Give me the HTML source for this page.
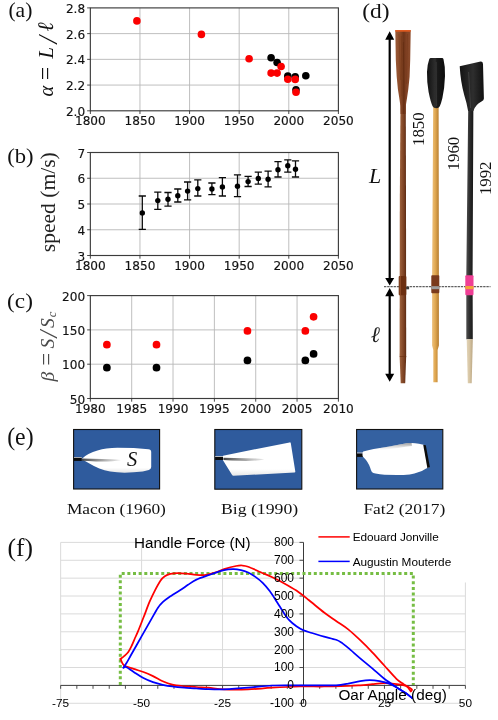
<!DOCTYPE html>
<html lang="en"><head><meta charset="utf-8"><title>Oar evolution figure</title>
<style>html,body{margin:0;padding:0;background:#fff}body{width:498px;height:720px;overflow:hidden}svg{display:block}</style>
</head><body>
<svg width="498" height="720" viewBox="0 0 498 720">
<defs>
<linearGradient id="wood" x1="0" x2="1" y1="0" y2="0"><stop offset="0" stop-color="#9a5a38"/><stop offset="0.3" stop-color="#8c4c2a"/><stop offset="0.55" stop-color="#6e3418"/><stop offset="0.75" stop-color="#844426"/><stop offset="1" stop-color="#8a4a2a"/></linearGradient>
<linearGradient id="woodS" x1="0" x2="1" y1="0" y2="0"><stop offset="0" stop-color="#a0643e"/><stop offset="0.35" stop-color="#8c502e"/><stop offset="0.7" stop-color="#783e20"/><stop offset="1" stop-color="#5a2a12"/></linearGradient>
<linearGradient id="wood2" x1="0" x2="1" y1="0" y2="0"><stop offset="0" stop-color="#ecc07c"/><stop offset="0.45" stop-color="#e2aa54"/><stop offset="1" stop-color="#b67c2e"/></linearGradient>
<linearGradient id="blk" x1="0" x2="1" y1="0" y2="0"><stop offset="0" stop-color="#101010"/><stop offset="0.45" stop-color="#2e2e2e"/><stop offset="0.55" stop-color="#1a1a1a"/><stop offset="1" stop-color="#0c0c0c"/></linearGradient>
<linearGradient id="blk2" x1="0" x2="1" y1="0" y2="0"><stop offset="0" stop-color="#131313"/><stop offset="0.55" stop-color="#2e2e2e"/><stop offset="1" stop-color="#101010"/></linearGradient>
<linearGradient id="shaft3" x1="0" x2="1" y1="0" y2="0"><stop offset="0" stop-color="#505050"/><stop offset="0.5" stop-color="#2c2c2c"/><stop offset="1" stop-color="#161616"/></linearGradient>
<linearGradient id="grip" x1="0" x2="1" y1="0" y2="0"><stop offset="0" stop-color="#e2d4b8"/><stop offset="0.5" stop-color="#d6c4a2"/><stop offset="1" stop-color="#b9a582"/></linearGradient>
<linearGradient id="bladeW" x1="0" x2="0" y1="0" y2="1"><stop offset="0" stop-color="#ffffff"/><stop offset="0.8" stop-color="#ffffff"/><stop offset="1" stop-color="#e6e6e6"/></linearGradient>
<linearGradient id="ridge" x1="0" x2="1" y1="0" y2="0"><stop offset="0" stop-color="#3c3c3c" stop-opacity="0.95"/><stop offset="0.5" stop-color="#888" stop-opacity="0.8"/><stop offset="1" stop-color="#bbb" stop-opacity="0.35"/></linearGradient>
<linearGradient id="fatshade" x1="0" x2="0" y1="0" y2="1"><stop offset="0" stop-color="#8f8f8f" stop-opacity="0.9"/><stop offset="1" stop-color="#ddd" stop-opacity="0"/></linearGradient>
</defs>
<rect width="498" height="720" fill="#fff"/>
<g id="panel-a">
<line x1="139.96" y1="7.9" x2="139.96" y2="110.8" stroke="#b8b8b8" stroke-width="0.9"/>
<line x1="189.57" y1="7.9" x2="189.57" y2="110.8" stroke="#b8b8b8" stroke-width="0.9"/>
<line x1="239.18" y1="7.9" x2="239.18" y2="110.8" stroke="#b8b8b8" stroke-width="0.9"/>
<line x1="288.79" y1="7.9" x2="288.79" y2="110.8" stroke="#b8b8b8" stroke-width="0.9"/>
<line x1="90.35" y1="85.07" x2="338.4" y2="85.07" stroke="#b8b8b8" stroke-width="0.9"/>
<line x1="90.35" y1="59.35" x2="338.4" y2="59.35" stroke="#b8b8b8" stroke-width="0.9"/>
<line x1="90.35" y1="33.62" x2="338.4" y2="33.62" stroke="#b8b8b8" stroke-width="0.9"/>
<circle cx="271.10" cy="57.70" r="3.8" fill="#000"/>
<circle cx="277.10" cy="62.50" r="3.8" fill="#000"/>
<circle cx="287.80" cy="76.10" r="3.8" fill="#000"/>
<circle cx="295.20" cy="76.70" r="3.8" fill="#000"/>
<circle cx="305.80" cy="75.70" r="3.8" fill="#000"/>
<circle cx="296.00" cy="89.80" r="3.8" fill="#000"/>
<circle cx="136.90" cy="20.90" r="3.8" fill="#fb0000"/>
<circle cx="201.40" cy="34.40" r="3.8" fill="#fb0000"/>
<circle cx="249.10" cy="58.70" r="3.8" fill="#fb0000"/>
<circle cx="271.10" cy="73.10" r="3.8" fill="#fb0000"/>
<circle cx="277.10" cy="73.10" r="3.8" fill="#fb0000"/>
<circle cx="281.10" cy="66.50" r="3.8" fill="#fb0000"/>
<circle cx="287.80" cy="79.20" r="3.8" fill="#fb0000"/>
<circle cx="295.20" cy="79.40" r="3.8" fill="#fb0000"/>
<circle cx="296.00" cy="92.20" r="3.8" fill="#fb0000"/>
<rect x="90.35" y="7.9" width="248.05" height="102.90" fill="none" stroke="#3c3c3c" stroke-width="1.15"/>
<line x1="90.35" y1="110.8" x2="90.35" y2="114.0" stroke="#333" stroke-width="0.9"/>
<text x="90.35" y="125.40" font-family='"DejaVu Sans","Liberation Sans",sans-serif' font-size="12.1" stroke="#111" stroke-width="0.15" text-anchor="middle" fill="#111">1800</text>
<line x1="139.96" y1="110.8" x2="139.96" y2="114.0" stroke="#333" stroke-width="0.9"/>
<text x="139.96" y="125.40" font-family='"DejaVu Sans","Liberation Sans",sans-serif' font-size="12.1" stroke="#111" stroke-width="0.15" text-anchor="middle" fill="#111">1850</text>
<line x1="189.57" y1="110.8" x2="189.57" y2="114.0" stroke="#333" stroke-width="0.9"/>
<text x="189.57" y="125.40" font-family='"DejaVu Sans","Liberation Sans",sans-serif' font-size="12.1" stroke="#111" stroke-width="0.15" text-anchor="middle" fill="#111">1900</text>
<line x1="239.18" y1="110.8" x2="239.18" y2="114.0" stroke="#333" stroke-width="0.9"/>
<text x="239.18" y="125.40" font-family='"DejaVu Sans","Liberation Sans",sans-serif' font-size="12.1" stroke="#111" stroke-width="0.15" text-anchor="middle" fill="#111">1950</text>
<line x1="288.79" y1="110.8" x2="288.79" y2="114.0" stroke="#333" stroke-width="0.9"/>
<text x="288.79" y="125.40" font-family='"DejaVu Sans","Liberation Sans",sans-serif' font-size="12.1" stroke="#111" stroke-width="0.15" text-anchor="middle" fill="#111">2000</text>
<line x1="338.40" y1="110.8" x2="338.40" y2="114.0" stroke="#333" stroke-width="0.9"/>
<text x="338.40" y="125.40" font-family='"DejaVu Sans","Liberation Sans",sans-serif' font-size="12.1" stroke="#111" stroke-width="0.15" text-anchor="middle" fill="#111">2050</text>
<line x1="87.14999999999999" y1="110.80" x2="90.35" y2="110.80" stroke="#333" stroke-width="0.9"/>
<text x="85.15" y="115.80" font-family='"DejaVu Sans","Liberation Sans",sans-serif' font-size="12.1" stroke="#111" stroke-width="0.15" text-anchor="end" fill="#111">2.0</text>
<line x1="87.14999999999999" y1="85.07" x2="90.35" y2="85.07" stroke="#333" stroke-width="0.9"/>
<text x="85.15" y="90.07" font-family='"DejaVu Sans","Liberation Sans",sans-serif' font-size="12.1" stroke="#111" stroke-width="0.15" text-anchor="end" fill="#111">2.2</text>
<line x1="87.14999999999999" y1="59.35" x2="90.35" y2="59.35" stroke="#333" stroke-width="0.9"/>
<text x="85.15" y="64.35" font-family='"DejaVu Sans","Liberation Sans",sans-serif' font-size="12.1" stroke="#111" stroke-width="0.15" text-anchor="end" fill="#111">2.4</text>
<line x1="87.14999999999999" y1="33.62" x2="90.35" y2="33.62" stroke="#333" stroke-width="0.9"/>
<text x="85.15" y="38.62" font-family='"DejaVu Sans","Liberation Sans",sans-serif' font-size="12.1" stroke="#111" stroke-width="0.15" text-anchor="end" fill="#111">2.6</text>
<line x1="87.14999999999999" y1="7.90" x2="90.35" y2="7.90" stroke="#333" stroke-width="0.9"/>
<text x="85.15" y="12.90" font-family='"DejaVu Sans","Liberation Sans",sans-serif' font-size="12.1" stroke="#111" stroke-width="0.15" text-anchor="end" fill="#111">2.8</text>
<text x="8.4" y="16.9" font-family='"Liberation Serif","DejaVu Serif",serif' font-size="21" fill="#111" textLength="24" lengthAdjust="spacingAndGlyphs">(a)</text>
<text transform="translate(52.6,96) rotate(-90)" font-family='"Liberation Serif","DejaVu Serif",serif' font-size="20.5" font-style="italic" fill="#111"><tspan x="-0.5">α</tspan><tspan x="15.8" font-style="normal" font-size="24">=</tspan><tspan x="37.6">L</tspan><tspan x="52.6" dy="4.2" font-size="27">/</tspan><tspan x="64.4" dy="-4.2" font-size="22">ℓ</tspan></text>
</g>
<g id="panel-b">
<line x1="139.96" y1="152.5" x2="139.96" y2="255.5" stroke="#b8b8b8" stroke-width="0.9"/>
<line x1="189.57" y1="152.5" x2="189.57" y2="255.5" stroke="#b8b8b8" stroke-width="0.9"/>
<line x1="239.18" y1="152.5" x2="239.18" y2="255.5" stroke="#b8b8b8" stroke-width="0.9"/>
<line x1="288.79" y1="152.5" x2="288.79" y2="255.5" stroke="#b8b8b8" stroke-width="0.9"/>
<line x1="90.35" y1="229.75" x2="338.4" y2="229.75" stroke="#b8b8b8" stroke-width="0.9"/>
<line x1="90.35" y1="204.00" x2="338.4" y2="204.00" stroke="#b8b8b8" stroke-width="0.9"/>
<line x1="90.35" y1="178.25" x2="338.4" y2="178.25" stroke="#b8b8b8" stroke-width="0.9"/>
<path d="M142.30 196.00V229.40M138.70 196.00H145.90M138.70 229.40H145.90" stroke="#0a0a0a" stroke-width="1.3" fill="none"/>
<circle cx="142.30" cy="212.90" r="2.7" fill="#000"/>
<path d="M157.80 192.10V209.40M154.20 192.10H161.40M154.20 209.40H161.40" stroke="#0a0a0a" stroke-width="1.3" fill="none"/>
<circle cx="157.80" cy="200.60" r="2.7" fill="#000"/>
<path d="M168.00 192.50V206.20M164.40 192.50H171.60M164.40 206.20H171.60" stroke="#0a0a0a" stroke-width="1.3" fill="none"/>
<circle cx="168.00" cy="199.20" r="2.7" fill="#000"/>
<path d="M177.80 189.00V202.00M174.20 189.00H181.40M174.20 202.00H181.40" stroke="#0a0a0a" stroke-width="1.3" fill="none"/>
<circle cx="177.80" cy="195.70" r="2.7" fill="#000"/>
<path d="M187.60 182.00V199.90M184.00 182.00H191.20M184.00 199.90H191.20" stroke="#0a0a0a" stroke-width="1.3" fill="none"/>
<circle cx="187.60" cy="191.10" r="2.7" fill="#000"/>
<path d="M197.80 179.90V196.00M194.20 179.90H201.40M194.20 196.00H201.40" stroke="#0a0a0a" stroke-width="1.3" fill="none"/>
<circle cx="197.80" cy="188.60" r="2.7" fill="#000"/>
<path d="M211.90 183.00V194.60M208.30 183.00H215.50M208.30 194.60H215.50" stroke="#0a0a0a" stroke-width="1.3" fill="none"/>
<circle cx="211.90" cy="189.00" r="2.7" fill="#000"/>
<path d="M222.40 177.70V196.00M218.80 177.70H226.00M218.80 196.00H226.00" stroke="#0a0a0a" stroke-width="1.3" fill="none"/>
<circle cx="222.40" cy="186.90" r="2.7" fill="#000"/>
<path d="M237.50 174.90V196.70M233.90 174.90H241.10M233.90 196.70H241.10" stroke="#0a0a0a" stroke-width="1.3" fill="none"/>
<circle cx="237.50" cy="186.20" r="2.7" fill="#000"/>
<path d="M248.10 176.30V186.50M244.50 176.30H251.70M244.50 186.50H251.70" stroke="#0a0a0a" stroke-width="1.3" fill="none"/>
<circle cx="248.10" cy="181.60" r="2.7" fill="#000"/>
<path d="M258.30 172.10V184.10M254.70 172.10H261.90M254.70 184.10H261.90" stroke="#0a0a0a" stroke-width="1.3" fill="none"/>
<circle cx="258.30" cy="178.40" r="2.7" fill="#000"/>
<path d="M268.10 171.10V186.90M264.50 171.10H271.70M264.50 186.90H271.70" stroke="#0a0a0a" stroke-width="1.3" fill="none"/>
<circle cx="268.10" cy="179.20" r="2.7" fill="#000"/>
<path d="M278.00 161.60V177.00M274.40 161.60H281.60M274.40 177.00H281.60" stroke="#0a0a0a" stroke-width="1.3" fill="none"/>
<circle cx="278.00" cy="169.70" r="2.7" fill="#000"/>
<path d="M287.80 159.80V172.10M284.20 159.80H291.40M284.20 172.10H291.40" stroke="#0a0a0a" stroke-width="1.3" fill="none"/>
<circle cx="287.80" cy="165.80" r="2.7" fill="#000"/>
<path d="M295.50 160.90V177.00M291.90 160.90H299.10M291.90 177.00H299.10" stroke="#0a0a0a" stroke-width="1.3" fill="none"/>
<circle cx="295.50" cy="169.30" r="2.7" fill="#000"/>
<rect x="90.35" y="152.5" width="248.05" height="103.00" fill="none" stroke="#3c3c3c" stroke-width="1.15"/>
<line x1="90.35" y1="255.5" x2="90.35" y2="258.7" stroke="#333" stroke-width="0.9"/>
<text x="90.35" y="270.10" font-family='"DejaVu Sans","Liberation Sans",sans-serif' font-size="12.1" stroke="#111" stroke-width="0.15" text-anchor="middle" fill="#111">1800</text>
<line x1="139.96" y1="255.5" x2="139.96" y2="258.7" stroke="#333" stroke-width="0.9"/>
<text x="139.96" y="270.10" font-family='"DejaVu Sans","Liberation Sans",sans-serif' font-size="12.1" stroke="#111" stroke-width="0.15" text-anchor="middle" fill="#111">1850</text>
<line x1="189.57" y1="255.5" x2="189.57" y2="258.7" stroke="#333" stroke-width="0.9"/>
<text x="189.57" y="270.10" font-family='"DejaVu Sans","Liberation Sans",sans-serif' font-size="12.1" stroke="#111" stroke-width="0.15" text-anchor="middle" fill="#111">1900</text>
<line x1="239.18" y1="255.5" x2="239.18" y2="258.7" stroke="#333" stroke-width="0.9"/>
<text x="239.18" y="270.10" font-family='"DejaVu Sans","Liberation Sans",sans-serif' font-size="12.1" stroke="#111" stroke-width="0.15" text-anchor="middle" fill="#111">1950</text>
<line x1="288.79" y1="255.5" x2="288.79" y2="258.7" stroke="#333" stroke-width="0.9"/>
<text x="288.79" y="270.10" font-family='"DejaVu Sans","Liberation Sans",sans-serif' font-size="12.1" stroke="#111" stroke-width="0.15" text-anchor="middle" fill="#111">2000</text>
<line x1="338.40" y1="255.5" x2="338.40" y2="258.7" stroke="#333" stroke-width="0.9"/>
<text x="338.40" y="270.10" font-family='"DejaVu Sans","Liberation Sans",sans-serif' font-size="12.1" stroke="#111" stroke-width="0.15" text-anchor="middle" fill="#111">2050</text>
<line x1="87.14999999999999" y1="255.50" x2="90.35" y2="255.50" stroke="#333" stroke-width="0.9"/>
<text x="85.15" y="260.50" font-family='"DejaVu Sans","Liberation Sans",sans-serif' font-size="12.1" stroke="#111" stroke-width="0.15" text-anchor="end" fill="#111">3</text>
<line x1="87.14999999999999" y1="229.75" x2="90.35" y2="229.75" stroke="#333" stroke-width="0.9"/>
<text x="85.15" y="234.75" font-family='"DejaVu Sans","Liberation Sans",sans-serif' font-size="12.1" stroke="#111" stroke-width="0.15" text-anchor="end" fill="#111">4</text>
<line x1="87.14999999999999" y1="204.00" x2="90.35" y2="204.00" stroke="#333" stroke-width="0.9"/>
<text x="85.15" y="209.00" font-family='"DejaVu Sans","Liberation Sans",sans-serif' font-size="12.1" stroke="#111" stroke-width="0.15" text-anchor="end" fill="#111">5</text>
<line x1="87.14999999999999" y1="178.25" x2="90.35" y2="178.25" stroke="#333" stroke-width="0.9"/>
<text x="85.15" y="183.25" font-family='"DejaVu Sans","Liberation Sans",sans-serif' font-size="12.1" stroke="#111" stroke-width="0.15" text-anchor="end" fill="#111">6</text>
<line x1="87.14999999999999" y1="152.50" x2="90.35" y2="152.50" stroke="#333" stroke-width="0.9"/>
<text x="85.15" y="157.50" font-family='"DejaVu Sans","Liberation Sans",sans-serif' font-size="12.1" stroke="#111" stroke-width="0.15" text-anchor="end" fill="#111">7</text>
<text x="7.2" y="163.3" font-family='"Liberation Serif","DejaVu Serif",serif' font-size="21" fill="#111" textLength="26.4" lengthAdjust="spacingAndGlyphs">(b)</text>
<text transform="translate(55.2,252.2) rotate(-90)" font-family='"Liberation Serif","DejaVu Serif",serif' font-size="20.2" fill="#222" textLength="100" lengthAdjust="spacingAndGlyphs">speed (m/s)</text>
</g>
<g id="panel-c">
<line x1="131.69" y1="295.6" x2="131.69" y2="398.5" stroke="#b8b8b8" stroke-width="0.9"/>
<line x1="173.03" y1="295.6" x2="173.03" y2="398.5" stroke="#b8b8b8" stroke-width="0.9"/>
<line x1="214.38" y1="295.6" x2="214.38" y2="398.5" stroke="#b8b8b8" stroke-width="0.9"/>
<line x1="255.72" y1="295.6" x2="255.72" y2="398.5" stroke="#b8b8b8" stroke-width="0.9"/>
<line x1="297.06" y1="295.6" x2="297.06" y2="398.5" stroke="#b8b8b8" stroke-width="0.9"/>
<line x1="90.35" y1="364.20" x2="338.4" y2="364.20" stroke="#b8b8b8" stroke-width="0.9"/>
<line x1="90.35" y1="329.90" x2="338.4" y2="329.90" stroke="#b8b8b8" stroke-width="0.9"/>
<circle cx="106.89" cy="344.65" r="3.85" fill="#fb0000"/>
<circle cx="106.89" cy="367.63" r="3.85" fill="#000"/>
<circle cx="156.50" cy="344.65" r="3.85" fill="#fb0000"/>
<circle cx="156.50" cy="367.63" r="3.85" fill="#000"/>
<circle cx="247.45" cy="330.93" r="3.85" fill="#fb0000"/>
<circle cx="247.45" cy="360.43" r="3.85" fill="#000"/>
<circle cx="305.33" cy="330.93" r="3.85" fill="#fb0000"/>
<circle cx="305.33" cy="360.43" r="3.85" fill="#000"/>
<circle cx="313.59" cy="316.87" r="3.85" fill="#fb0000"/>
<circle cx="313.59" cy="353.91" r="3.85" fill="#000"/>
<rect x="90.35" y="295.6" width="248.05" height="102.90" fill="none" stroke="#3c3c3c" stroke-width="1.15"/>
<line x1="90.35" y1="398.5" x2="90.35" y2="401.7" stroke="#333" stroke-width="0.9"/>
<text x="90.35" y="413.10" font-family='"DejaVu Sans","Liberation Sans",sans-serif' font-size="12.1" stroke="#111" stroke-width="0.15" text-anchor="middle" fill="#111">1980</text>
<line x1="131.69" y1="398.5" x2="131.69" y2="401.7" stroke="#333" stroke-width="0.9"/>
<text x="131.69" y="413.10" font-family='"DejaVu Sans","Liberation Sans",sans-serif' font-size="12.1" stroke="#111" stroke-width="0.15" text-anchor="middle" fill="#111">1985</text>
<line x1="173.03" y1="398.5" x2="173.03" y2="401.7" stroke="#333" stroke-width="0.9"/>
<text x="173.03" y="413.10" font-family='"DejaVu Sans","Liberation Sans",sans-serif' font-size="12.1" stroke="#111" stroke-width="0.15" text-anchor="middle" fill="#111">1990</text>
<line x1="214.38" y1="398.5" x2="214.38" y2="401.7" stroke="#333" stroke-width="0.9"/>
<text x="214.38" y="413.10" font-family='"DejaVu Sans","Liberation Sans",sans-serif' font-size="12.1" stroke="#111" stroke-width="0.15" text-anchor="middle" fill="#111">1995</text>
<line x1="255.72" y1="398.5" x2="255.72" y2="401.7" stroke="#333" stroke-width="0.9"/>
<text x="255.72" y="413.10" font-family='"DejaVu Sans","Liberation Sans",sans-serif' font-size="12.1" stroke="#111" stroke-width="0.15" text-anchor="middle" fill="#111">2000</text>
<line x1="297.06" y1="398.5" x2="297.06" y2="401.7" stroke="#333" stroke-width="0.9"/>
<text x="297.06" y="413.10" font-family='"DejaVu Sans","Liberation Sans",sans-serif' font-size="12.1" stroke="#111" stroke-width="0.15" text-anchor="middle" fill="#111">2005</text>
<line x1="338.40" y1="398.5" x2="338.40" y2="401.7" stroke="#333" stroke-width="0.9"/>
<text x="338.40" y="413.10" font-family='"DejaVu Sans","Liberation Sans",sans-serif' font-size="12.1" stroke="#111" stroke-width="0.15" text-anchor="middle" fill="#111">2010</text>
<line x1="87.14999999999999" y1="398.50" x2="90.35" y2="398.50" stroke="#333" stroke-width="0.9"/>
<text x="85.15" y="403.50" font-family='"DejaVu Sans","Liberation Sans",sans-serif' font-size="12.1" stroke="#111" stroke-width="0.15" text-anchor="end" fill="#111">50</text>
<line x1="87.14999999999999" y1="364.20" x2="90.35" y2="364.20" stroke="#333" stroke-width="0.9"/>
<text x="85.15" y="369.20" font-family='"DejaVu Sans","Liberation Sans",sans-serif' font-size="12.1" stroke="#111" stroke-width="0.15" text-anchor="end" fill="#111">100</text>
<line x1="87.14999999999999" y1="329.90" x2="90.35" y2="329.90" stroke="#333" stroke-width="0.9"/>
<text x="85.15" y="334.90" font-family='"DejaVu Sans","Liberation Sans",sans-serif' font-size="12.1" stroke="#111" stroke-width="0.15" text-anchor="end" fill="#111">150</text>
<line x1="87.14999999999999" y1="295.60" x2="90.35" y2="295.60" stroke="#333" stroke-width="0.9"/>
<text x="85.15" y="300.60" font-family='"DejaVu Sans","Liberation Sans",sans-serif' font-size="12.1" stroke="#111" stroke-width="0.15" text-anchor="end" fill="#111">200</text>
<text x="7.1" y="308.2" font-family='"Liberation Serif","DejaVu Serif",serif' font-size="21" fill="#111" textLength="25.8" lengthAdjust="spacingAndGlyphs">(c)</text>
<text transform="translate(53.6,381) rotate(-90)" font-family='"Liberation Serif","DejaVu Serif",serif' font-size="19.5" font-style="italic" fill="#4a4a4a"><tspan x="-0.5">β</tspan><tspan x="15.2" font-style="normal" font-size="23">=</tspan><tspan x="32.4">S</tspan><tspan x="43.4" dy="3.4" font-size="25">/</tspan><tspan x="53" dy="-3.4">S</tspan><tspan x="63.8" font-size="12.5" dy="2.6">c</tspan></text>
</g>
<g id="panel-d">
<text x="362.2" y="18" font-family='"Liberation Serif","DejaVu Serif",serif' font-size="21" fill="#111" textLength="27.3" lengthAdjust="spacingAndGlyphs">(d)</text>
<line x1="384" y1="286.7" x2="490.5" y2="286.7" stroke="#606060" stroke-width="1.3" stroke-dasharray="2.35 0.85"/>
<path d="M400.5 104H405.8L406 200L406.2 356L405.2 383.2H400.7L399.6 356L399.8 200Z" fill="url(#woodS)"/>
<path d="M395.3 30.2H410.7L410.2 60L409.6 76.7L408.3 89.2L407.1 97.5L405.8 105.8L405.7 114H400.6L400.4 105.8L399.2 97.5L397.9 89.2L396.7 76.7L395.8 60Z" fill="url(#wood)"/>
<path d="M403.4 42L404 100L403.9 114" stroke="#5e2a0e" stroke-width="1" fill="none" opacity="0.55"/>
<path d="M399 34L400.6 80M407.5 34L406.5 84M401.3 36L402 96" stroke="#6a3010" stroke-width="0.7" fill="none" opacity="0.45"/>
<rect x="395.3" y="30" width="15.4" height="1.7" fill="#de5a20"/>
<rect x="398.7" y="276" width="7.6" height="19.2" rx="0.9" fill="#6c2f10"/>
<rect x="399.4" y="276" width="1.6" height="19.2" fill="#92502a" opacity="0.8"/>
<rect x="406.1" y="287" width="3" height="2.3" fill="#3a3a3a"/>
<rect x="399.6" y="356" width="6.7" height="0.9" fill="#6a3012" opacity="0.7"/>
<path d="M433.2 104H438.6L438.9 275V345.5L437.6 350V382.2H433.3V350L432.1 345.5V275Z" fill="url(#wood2)"/>
<path d="M429.2 59.3Q429.6 58 431 58H442Q443.2 58 443.5 59.3Q445.4 67 445 76Q444.6 88 442.4 98Q441.2 103 439.8 106.2Q438.8 108.2 436.2 108.2Q433.6 108.2 432.6 106.2Q430.6 102 428.6 92Q426.8 82 427 72Q427.2 65 429.2 59.3Z" fill="url(#blk)"/>
<path d="M436.2 62L436.4 106" stroke="#4a4a4a" stroke-width="0.8" opacity="0.6"/>
<rect x="431.3" y="275.2" width="8" height="18" rx="0.9" fill="#7a3a1c"/>
<rect x="431.3" y="286.2" width="8" height="3" fill="#9c9c9c"/>
<path d="M468.3 100H473.4L472.6 275L472.8 339.2H466.3V275Z" fill="url(#shaft3)"/>
<path d="M466.7 339.2H472.8L471.7 383.2H467.8Z" fill="url(#grip)"/>
<path d="M459.7 66.3L480.6 61.6Q482.8 61.4 483 64L483.9 98.5Q483.9 100.4 481.5 101.6Q475.5 104.6 473.4 111H468.1Q466.5 102 464.2 95Q460.6 82 459.7 66.3Z" fill="url(#blk2)"/>
<path d="M468.6 72L470.6 108" stroke="#555" stroke-width="0.9" opacity="0.6"/>
<rect x="465.3" y="275.2" width="8.2" height="20" rx="1" fill="#ef3f95"/>
<rect x="465.3" y="286" width="8.2" height="3.2" fill="#f2a23a"/>
<path d="M389.7 38V280M389.7 294V375" stroke="#000" stroke-width="2.2" fill="none"/>
<path d="M389.7 31.3L394.2 39.8H385.2Z M389.7 285.6L394.2 278H385.2Z M389.7 288L394.2 296.2H385.2Z M389.7 381.8L394.2 373.8H385.2Z" fill="#000"/>
<text x="369" y="182.8" font-family='"Liberation Serif","DejaVu Serif",serif' font-size="22" font-style="italic" fill="#111">L</text>
<text x="370.8" y="342.2" font-family='"Liberation Serif","DejaVu Serif",serif' font-size="22" font-style="italic" fill="#222">ℓ</text>
<text transform="translate(424,146) rotate(-90)" font-family='"Liberation Serif","DejaVu Serif",serif' font-size="16.8" fill="#111">1850</text>
<text transform="translate(458.6,170.4) rotate(-90)" font-family='"Liberation Serif","DejaVu Serif",serif' font-size="16.8" fill="#111">1960</text>
<text transform="translate(491.1,195.1) rotate(-90)" font-family='"Liberation Serif","DejaVu Serif",serif' font-size="16.8" fill="#111">1992</text>
</g>
<g id="panel-e">
<text x="7.2" y="444.6" font-family='"Liberation Serif","DejaVu Serif",serif' font-size="24.3" fill="#111" textLength="26.4" lengthAdjust="spacingAndGlyphs">(e)</text>
<rect x="73.6" y="429.5" width="86" height="59.5" fill="#2f5b9d" stroke="#111" stroke-width="1.1"/>
<rect x="74" y="457" width="7.8" height="1" fill="#b9bcc2"/>
<rect x="74" y="457.9" width="7.8" height="3" fill="#0c0c0c"/>
<path d="M81.2 458.5Q84.5 455.5 88.1 453.6Q92.5 451.3 97.1 449.9Q101.5 448.7 106.1 448.1Q111.5 447.3 117 447.2L133.3 447.6L148 448.7Q150.8 449 150.8 451.5V466.5Q150.8 468.8 148.5 469.4L142.3 471.1Q133 472.2 124.2 472.2Q116.5 472 109.8 471.1Q104 470 98.9 468Q94 466 89.9 463.5Q85 460.8 81.2 458.5Z" transform="translate(0.4,0.5)" fill="url(#bladeW)"/>
<path d="M81.8 458.6L112 459.2Q121.5 459.4 120.5 460.2Q112 461.8 96 461.4Q88 461.2 81.8 460.8Z" fill="url(#ridge)"/>
<text x="127" y="466" font-family='"Liberation Serif","DejaVu Serif",serif' font-size="20.5" font-style="italic" fill="#111">S</text>
<rect x="214.8" y="429.5" width="87" height="59.7" fill="#2f5b9d" stroke="#111" stroke-width="1.1"/>
<rect x="215.2" y="456" width="8" height="1" fill="#b9bcc2"/>
<rect x="215.2" y="457" width="8" height="3" fill="#0c0c0c"/>
<path d="M223 455.7L289.6 442.4Q290.6 442.2 290.8 443.2L295.3 471.4Q295.5 472.4 294.5 472.5L233.4 475.8Q232.5 475.8 232.1 475L223 460.2Z" fill="url(#bladeW)"/>
<path d="M223.4 457.8L256 458.4Q265 458.8 264 459.6Q256 461.2 240 460.8Q231 460.5 223.4 460Z" fill="url(#ridge)"/>
<rect x="356.6" y="429.5" width="86.2" height="59.5" fill="#3461a1" stroke="#111" stroke-width="1.1"/>
<rect x="357" y="452.4" width="6" height="1.2" fill="#b9bcc2"/>
<rect x="357" y="453.6" width="6" height="3.3" fill="#0c0c0c"/>
<path d="M363.2 451.6Q368 450.2 373.7 449.1L388.1 446.7L402.6 444Q407 443.1 411.6 443.1Q415 443.1 418.9 443.7L424.6 445L429 467.4Q427.6 468 426.1 468.4Q423 470.6 418.9 472Q414.5 473.6 409.8 474.4Q403.5 475.1 397.2 475.1L384.5 474.8Q380 474.4 375.5 473.5Q373 473 371.9 472Q370.8 470 370.1 467.5Q369 464.6 367.4 462.1Q365.8 459.6 363.7 457.6Q362.3 456.2 362.5 454.9Q362.3 452.4 363.2 451.6Z" fill="#fff"/>
<path d="M380 448.1L402.6 444Q407 443.1 411.6 443.1L412 446Q400 447.5 380 450.5Z" fill="url(#fatshade)"/>
<path d="M423.2 444.7L425.8 445.2L429.9 466.9L427.4 468.2Z" fill="#0c0c0c"/>
<text x="66.9" y="513.6" font-family='"Liberation Serif","DejaVu Serif",serif' font-size="15" fill="#111" textLength="99" lengthAdjust="spacingAndGlyphs">Macon (1960)</text>
<text x="220.9" y="513.6" font-family='"Liberation Serif","DejaVu Serif",serif' font-size="15" fill="#111" textLength="77.3" lengthAdjust="spacingAndGlyphs">Big (1990)</text>
<text x="363.4" y="513.6" font-family='"Liberation Serif","DejaVu Serif",serif' font-size="15" fill="#111" textLength="82" lengthAdjust="spacingAndGlyphs">Fat2 (2017)</text>
</g>
<g id="panel-f">
<text x="7.6" y="556" font-family='"Liberation Serif","DejaVu Serif",serif' font-size="24.3" fill="#111" textLength="25.5" lengthAdjust="spacingAndGlyphs">(f)</text>
<line x1="60.65" y1="703.27" x2="465.40" y2="703.27" stroke="#dadada" stroke-width="1"/>
<line x1="60.65" y1="667.52" x2="465.40" y2="667.52" stroke="#dadada" stroke-width="1"/>
<line x1="60.65" y1="649.65" x2="465.40" y2="649.65" stroke="#dadada" stroke-width="1"/>
<line x1="60.65" y1="631.77" x2="465.40" y2="631.77" stroke="#dadada" stroke-width="1"/>
<line x1="60.65" y1="613.90" x2="465.40" y2="613.90" stroke="#dadada" stroke-width="1"/>
<line x1="60.65" y1="596.02" x2="465.40" y2="596.02" stroke="#dadada" stroke-width="1"/>
<line x1="60.65" y1="578.15" x2="303.50" y2="578.15" stroke="#dadada" stroke-width="1"/>
<line x1="60.65" y1="560.27" x2="303.50" y2="560.27" stroke="#dadada" stroke-width="1"/>
<line x1="60.65" y1="542.40" x2="303.50" y2="542.40" stroke="#dadada" stroke-width="1"/>
<line x1="60.65" y1="542.40" x2="60.65" y2="703.27" stroke="#dadada" stroke-width="1"/>
<line x1="141.60" y1="542.40" x2="141.60" y2="685.4" stroke="#dadada" stroke-width="1"/>
<line x1="222.55" y1="542.40" x2="222.55" y2="685.4" stroke="#dadada" stroke-width="1"/>
<line x1="384.45" y1="574" x2="384.45" y2="685.4" stroke="#dadada" stroke-width="1"/>
<line x1="465.40" y1="582.5" x2="465.40" y2="685.4" stroke="#dadada" stroke-width="1"/>
<line x1="60.65" y1="685.4" x2="465.40" y2="685.4" stroke="#3a3a3a" stroke-width="1"/>
<line x1="303.5" y1="542.40" x2="303.5" y2="703.27" stroke="#3a3a3a" stroke-width="1"/>
<path d="M60.65 685.4v3.4M76.84 685.4v3.4M93.03 685.4v3.4M109.22 685.4v3.4M125.41 685.4v3.4M141.60 685.4v3.4M157.79 685.4v3.4M173.98 685.4v3.4M190.17 685.4v3.4M206.36 685.4v3.4M222.55 685.4v3.4M238.74 685.4v3.4M254.93 685.4v3.4M271.12 685.4v3.4M287.31 685.4v3.4M303.50 685.4v3.4M319.69 685.4v3.4M335.88 685.4v3.4M352.07 685.4v3.4M368.26 685.4v3.4M384.45 685.4v3.4M400.64 685.4v3.4M416.83 685.4v3.4M433.02 685.4v3.4M449.21 685.4v3.4M465.40 685.4v3.4M303.5 703.27h-4M303.5 685.40h-4M303.5 667.52h-4M303.5 649.65h-4M303.5 631.77h-4M303.5 613.90h-4M303.5 596.02h-4M303.5 578.15h-4M303.5 560.27h-4M303.5 542.40h-4" stroke="#3a3a3a" stroke-width="0.9" fill="none"/>
<path d="M120.3 685V573.4H413.3V685" fill="none" stroke="#76bd43" stroke-width="3" stroke-dasharray="3 2.65"/>
<path d="M120.5 659.0C121.1 658.5 122.8 657.4 124.1 656.2C125.4 655.0 127.0 653.8 128.3 652.0C129.6 650.2 130.7 647.8 131.8 645.5C132.9 643.2 133.8 640.9 134.8 638.5C135.9 636.1 136.6 634.7 138.1 631.1C139.6 627.5 141.8 621.8 143.7 617.0C145.6 612.2 147.5 606.7 149.4 602.2C151.3 597.8 153.1 593.9 155.0 590.3C156.9 586.7 159.0 582.9 160.6 580.5C162.2 578.1 163.2 577.3 164.8 576.2C166.4 575.1 168.2 574.4 170.4 573.9C172.6 573.4 175.3 573.1 178.0 573.1C180.7 573.1 183.6 573.4 186.7 573.7C189.8 574.0 193.2 574.7 196.4 574.9C199.6 575.1 202.8 575.3 206.0 574.9C209.2 574.5 212.7 573.3 215.7 572.4C218.7 571.5 220.7 570.3 224.1 569.2C227.5 568.1 233.1 566.6 236.1 566.0C239.1 565.4 240.2 565.4 242.2 565.5C244.2 565.6 245.2 565.6 248.2 566.7C251.2 567.8 256.2 570.2 260.2 572.0C264.2 573.8 268.3 575.4 272.3 577.3C276.3 579.2 280.3 581.2 284.3 583.4C288.3 585.6 292.4 587.9 296.4 590.6C300.4 593.3 303.8 596.1 308.4 599.8C313.0 603.4 319.5 609.0 324.1 612.5C328.7 616.0 332.1 618.2 336.1 621.0C340.1 623.8 344.2 626.2 348.2 629.4C352.2 632.6 356.2 636.4 360.2 640.2C364.2 644.0 368.3 648.1 372.3 652.3C376.3 656.5 380.3 661.1 384.3 665.5C388.3 669.9 393.2 675.7 396.4 678.8C399.6 681.9 401.4 682.6 403.6 684.1C405.8 685.6 408.2 686.8 409.6 687.7C411.0 688.6 411.8 689.0 412.0 689.6C412.2 690.2 411.0 691.0 410.8 691.3" fill="none" stroke="#ff0000" stroke-width="1.75" stroke-linejoin="round" stroke-linecap="round"/>
<path d="M410.8 691.3C410.0 690.4 408.4 687.2 406.0 686.0C403.6 684.8 400.0 684.6 396.4 684.1C392.8 683.6 388.3 683.1 384.3 683.1C380.3 683.1 376.3 683.7 372.3 684.1C368.3 684.5 364.2 685.0 360.2 685.3C356.2 685.6 354.2 685.8 348.2 686.0C342.2 686.2 332.1 686.4 324.1 686.5C316.1 686.6 308.7 686.3 300.0 686.5C291.3 686.7 280.7 687.2 272.0 687.7C263.3 688.2 256.0 689.1 248.0 689.4C240.0 689.7 230.6 689.7 224.0 689.4C217.4 689.1 213.0 688.1 208.4 687.7C203.8 687.3 200.8 687.3 196.4 687.0C192.0 686.7 185.9 686.4 181.9 686.0C177.9 685.6 175.5 685.4 172.3 684.6C169.1 683.8 165.9 682.6 162.7 681.2C159.5 679.8 156.2 677.6 153.0 676.1C149.8 674.6 146.6 673.2 143.4 672.0C140.2 670.8 136.9 670.0 133.7 668.9C130.5 667.8 126.3 667.2 124.1 665.5C121.9 663.8 121.1 659.9 120.5 658.8" fill="none" stroke="#ff0000" stroke-width="1.75" stroke-linejoin="round" stroke-linecap="round"/>
<path d="M123.4 667.7C123.9 666.9 125.2 665.1 126.5 663.0C127.8 660.9 129.3 658.0 131.0 655.0C132.7 652.0 134.6 648.7 136.7 645.0C138.8 641.3 141.3 636.8 143.7 632.6C146.0 628.5 148.5 624.2 150.8 620.1C153.2 616.0 155.8 610.9 157.8 607.9C159.8 604.9 160.8 604.0 162.7 602.2C164.6 600.4 166.1 599.3 169.0 597.3C171.9 595.3 176.8 592.4 180.0 590.3C183.2 588.2 185.3 586.6 188.0 584.8C190.7 583.0 193.0 581.2 196.4 579.6C199.8 578.0 203.8 576.8 208.4 575.2C213.0 573.6 219.9 571.1 224.1 570.1C228.3 569.1 230.9 569.2 233.7 569.2C236.5 569.2 238.6 569.6 241.0 570.1C243.4 570.6 245.8 571.4 248.2 572.5C250.6 573.6 253.0 575.2 255.4 576.9C257.8 578.6 260.3 580.5 262.7 582.9C265.1 585.3 267.5 588.1 269.9 591.3C272.3 594.5 274.9 598.8 277.1 602.2C279.3 605.6 281.1 608.8 283.1 611.8C285.1 614.8 287.0 617.8 289.2 620.2C291.4 622.6 294.0 624.6 296.4 626.3C298.8 628.0 301.0 629.3 303.6 630.4C306.2 631.5 308.6 632.0 312.0 633.0C315.4 634.0 320.1 635.5 324.1 636.6C328.1 637.7 333.1 638.7 336.1 639.8C339.1 640.9 340.2 641.8 342.2 643.1C344.2 644.5 345.2 645.4 348.2 647.9C351.2 650.4 356.2 654.9 360.2 658.3C364.2 661.7 368.3 665.0 372.3 668.4C376.3 671.8 380.3 675.7 384.3 678.8C388.3 681.9 392.8 684.8 396.4 687.2C400.0 689.6 403.4 691.5 406.0 693.3C408.6 695.1 411.0 697.3 412.0 698.1" fill="none" stroke="#0000ff" stroke-width="1.75" stroke-linejoin="round" stroke-linecap="round"/>
<path d="M412.0 698.1C411.0 697.3 408.6 695.1 406.0 693.3C403.4 691.5 399.2 688.8 396.4 687.2C393.6 685.6 392.0 684.6 389.2 683.6C386.4 682.6 382.7 681.8 379.5 681.2C376.3 680.6 373.1 680.2 369.9 680.2C366.7 680.2 363.8 680.6 360.2 681.2C356.6 681.8 352.2 682.9 348.2 683.6C344.2 684.3 340.8 685.0 336.1 685.3C331.4 685.6 326.7 685.4 320.0 685.4C313.3 685.4 304.0 685.3 296.0 685.3C288.0 685.3 280.0 685.1 272.0 685.5C264.0 685.9 256.0 687.1 248.0 687.7C240.0 688.4 230.6 689.1 224.0 689.4C217.4 689.6 213.0 689.4 208.4 689.2C203.8 689.0 200.4 688.6 196.4 688.4C192.4 688.1 188.3 688.0 184.3 687.7C180.3 687.4 175.9 687.0 172.3 686.5C168.7 686.0 165.9 685.5 162.7 684.8C159.5 684.1 156.2 683.3 153.0 682.2C149.8 681.1 146.6 679.8 143.4 678.1C140.2 676.4 136.5 673.8 133.7 672.0C130.9 670.2 128.2 667.9 126.5 667.2C124.8 666.5 123.9 667.6 123.4 667.7" fill="none" stroke="#0000ff" stroke-width="1.75" stroke-linejoin="round" stroke-linecap="round"/>
<text x="294" y="707.17" font-family='"Liberation Sans","DejaVu Sans",sans-serif' font-size="12" text-anchor="end" fill="#000">-100</text>
<text x="294" y="689.30" font-family='"Liberation Sans","DejaVu Sans",sans-serif' font-size="12" text-anchor="end" fill="#000">0</text>
<text x="294" y="671.42" font-family='"Liberation Sans","DejaVu Sans",sans-serif' font-size="12" text-anchor="end" fill="#000">100</text>
<text x="294" y="653.55" font-family='"Liberation Sans","DejaVu Sans",sans-serif' font-size="12" text-anchor="end" fill="#000">200</text>
<text x="294" y="635.67" font-family='"Liberation Sans","DejaVu Sans",sans-serif' font-size="12" text-anchor="end" fill="#000">300</text>
<text x="294" y="617.80" font-family='"Liberation Sans","DejaVu Sans",sans-serif' font-size="12" text-anchor="end" fill="#000">400</text>
<text x="294" y="599.92" font-family='"Liberation Sans","DejaVu Sans",sans-serif' font-size="12" text-anchor="end" fill="#000">500</text>
<text x="294" y="582.05" font-family='"Liberation Sans","DejaVu Sans",sans-serif' font-size="12" text-anchor="end" fill="#000">600</text>
<text x="294" y="564.17" font-family='"Liberation Sans","DejaVu Sans",sans-serif' font-size="12" text-anchor="end" fill="#000">700</text>
<text x="294" y="546.30" font-family='"Liberation Sans","DejaVu Sans",sans-serif' font-size="12" text-anchor="end" fill="#000">800</text>
<text x="60.65" y="706.6" font-family='"Liberation Sans","DejaVu Sans",sans-serif' font-size="11.8" text-anchor="middle" fill="#000">-75</text>
<text x="141.60" y="706.6" font-family='"Liberation Sans","DejaVu Sans",sans-serif' font-size="11.8" text-anchor="middle" fill="#000">-50</text>
<text x="222.55" y="706.6" font-family='"Liberation Sans","DejaVu Sans",sans-serif' font-size="11.8" text-anchor="middle" fill="#000">-25</text>
<text x="303.50" y="706.6" font-family='"Liberation Sans","DejaVu Sans",sans-serif' font-size="11.8" text-anchor="middle" fill="#000">0</text>
<text x="384.45" y="706.6" font-family='"Liberation Sans","DejaVu Sans",sans-serif' font-size="11.8" text-anchor="middle" fill="#000">25</text>
<text x="465.40" y="706.6" font-family='"Liberation Sans","DejaVu Sans",sans-serif' font-size="11.8" text-anchor="middle" fill="#000">50</text>
<text x="134" y="547.5" font-family='"Liberation Sans","DejaVu Sans",sans-serif' font-size="15.2" fill="#000" textLength="116.5" lengthAdjust="spacing">Handle Force (N)</text>
<text x="338.4" y="699.8" font-family='"Liberation Sans","DejaVu Sans",sans-serif' font-size="15.3" fill="#000" textLength="108.5" lengthAdjust="spacing">Oar Angle (deg)</text>
<line x1="318.4" y1="536.9" x2="349.7" y2="536.9" stroke="#ff0000" stroke-width="1.5"/>
<line x1="318.4" y1="561.4" x2="349.7" y2="561.4" stroke="#0000ff" stroke-width="1.5"/>
<text x="352.7" y="540.9" font-family='"Liberation Sans","DejaVu Sans",sans-serif' font-size="11.8" fill="#000" textLength="86" lengthAdjust="spacing">Edouard Jonville</text>
<text x="352.7" y="565.5" font-family='"Liberation Sans","DejaVu Sans",sans-serif' font-size="11.8" fill="#000" textLength="98.5" lengthAdjust="spacing">Augustin Mouterde</text>
</g>
</svg></body></html>
